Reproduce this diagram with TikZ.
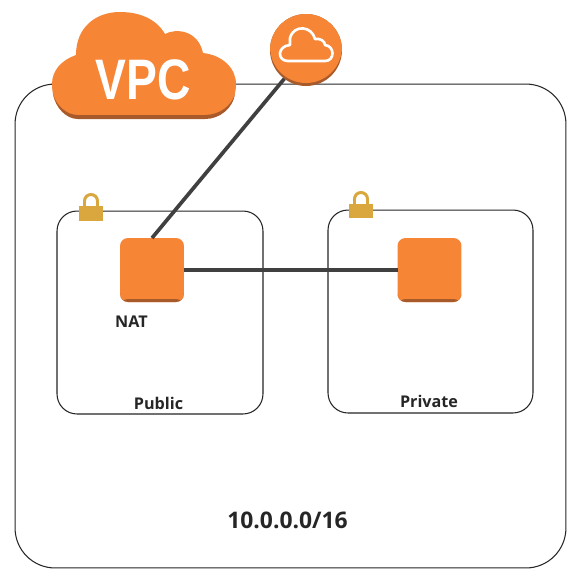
\documentclass[tikz,border=0pt]{standalone}
\usepackage{fontspec}
\setmainfont{Open Sans}
\newfontfamily\vpcfont{Liberation Sans}
\definecolor{awsOrange}{HTML}{F68536}
\definecolor{awsDark}{HTML}{A85A2A}
\definecolor{lockGold}{HTML}{D9A73E}
\definecolor{wireGray}{HTML}{404040}
\begin{document}
\begin{tikzpicture}[
    x=0.02cm,y=-0.02cm,
    zoneBox/.style={draw=black!85,line width=0.6pt,fill=none,rounded corners=0.4cm,inner sep=0,outer sep=0},
    hostBox/.style={fill=awsOrange,rounded corners=0.16cm,minimum width=1.28cm,minimum height=1.28cm,inner sep=0,outer sep=0,
        path picture={\fill[awsDark] (path picture bounding box.south west) rectangle ([yshift=0.06cm]path picture bounding box.south east);}},
    gateCircle/.style={circle,fill=awsDark,minimum size=1.44cm,inner sep=0,outer sep=0,
        path picture={\fill[awsOrange] ([yshift=0.06cm]path picture bounding box.center) circle (0.72cm);}},
    wireLine/.style={draw=wireGray,line width=2.1pt},
    zoneLabel/.style={font=\bfseries\fontsize{9.2pt}{11pt}\selectfont,text=black!85,inner sep=0},
    lockBody/.style={fill=lockGold},
    lockBow/.style={draw=lockGold,line width=1.7pt},
]
\useasboundingbox[fill=white] (0,0) rectangle (583,586);
% zones
\node[zoneBox,minimum width=11.02cm,minimum height=9.68cm,rounded corners=0.8cm] (VPC) at (290.5,326) {};
\node[zoneBox,minimum width=4.12cm,minimum height=4.06cm] (PUB) at (160,312.5) {};
\node[zoneBox,minimum width=4.1cm,minimum height=4.06cm] (PRI) at (430.5,311.5) {};
% big cloud
\fill[awsOrange] (76,55) .. controls (76,27) and (96,12) .. (120,12) .. controls (141,12) and (157,20) .. (165,34)
    .. controls (176,28) and (198,30) .. (203,53) .. controls (222,55) and (236,68) .. (236,84)
    .. controls (236,105) and (222,118) .. (205,118) -- (78,118) .. controls (62,118) and (52,103) .. (52,84)
    .. controls (52,70) and (62,60) .. (76,55) -- cycle;
\fill[awsDark] (53,94) .. controls (56,108) and (66,119) .. (78,119) -- (205,119) .. controls (220,119) and (233,108) .. (235,94)
    .. controls (232,105) and (220,115) .. (205,115) -- (78,115) .. controls (66,115) and (56,105) .. (53,94) -- cycle;
\node[text=white,inner sep=0,font=\vpcfont\bfseries\fontsize{32.5pt}{32.5pt}\selectfont] (VPCTXT) at (143.5,80) {\scalebox{0.81}[1]{VPC}};
% hosts
\node[hostBox] (NAT) at (152,270) {};
\node[hostBox] (PRIV) at (429.5,270) {};
\node[gateCircle] (IGW) at (306,50) {};
\draw[white,line width=1.5pt,line join=round] (288,61) -- (325,61) .. controls (335,61) and (335,46) .. (325,45)
    .. controls (325,41) and (320,38) .. (315,39) .. controls (312,26) and (294,24) .. (290,38)
    .. controls (290,41) and (290,43) .. (290,45) .. controls (277,46) and (277,61) .. (288,61) -- cycle;
% wires
\draw[wireLine] (NAT.north) -- (IGW.233);
\draw[wireLine] (NAT.east) -- (PRIV.west);
% locks
\draw[lockBow] (84.5,208) -- (84.5,201) arc[start angle=180,end angle=360,radius=6.5] -- (97.5,208);
\fill[lockBody] (79,206) rectangle (103,221);
\draw[lockBow] (354.5,206) -- (354.5,199) arc[start angle=180,end angle=360,radius=6.5] -- (367.5,206);
\fill[lockBody] (349,204) rectangle (373,218);
% labels
\node[zoneLabel] (NATTXT) at (131.5,322) {NAT};
\node[zoneLabel] (PUBTXT) at (158.5,403) {Public};
\node[zoneLabel] (PRITXT) at (429,401.5) {Private};
\node[zoneLabel,font=\bfseries\fontsize{13pt}{15pt}\selectfont] (NETTXT) at (287.5,520) {10.0.0.0/16};
\end{tikzpicture}
\end{document}
